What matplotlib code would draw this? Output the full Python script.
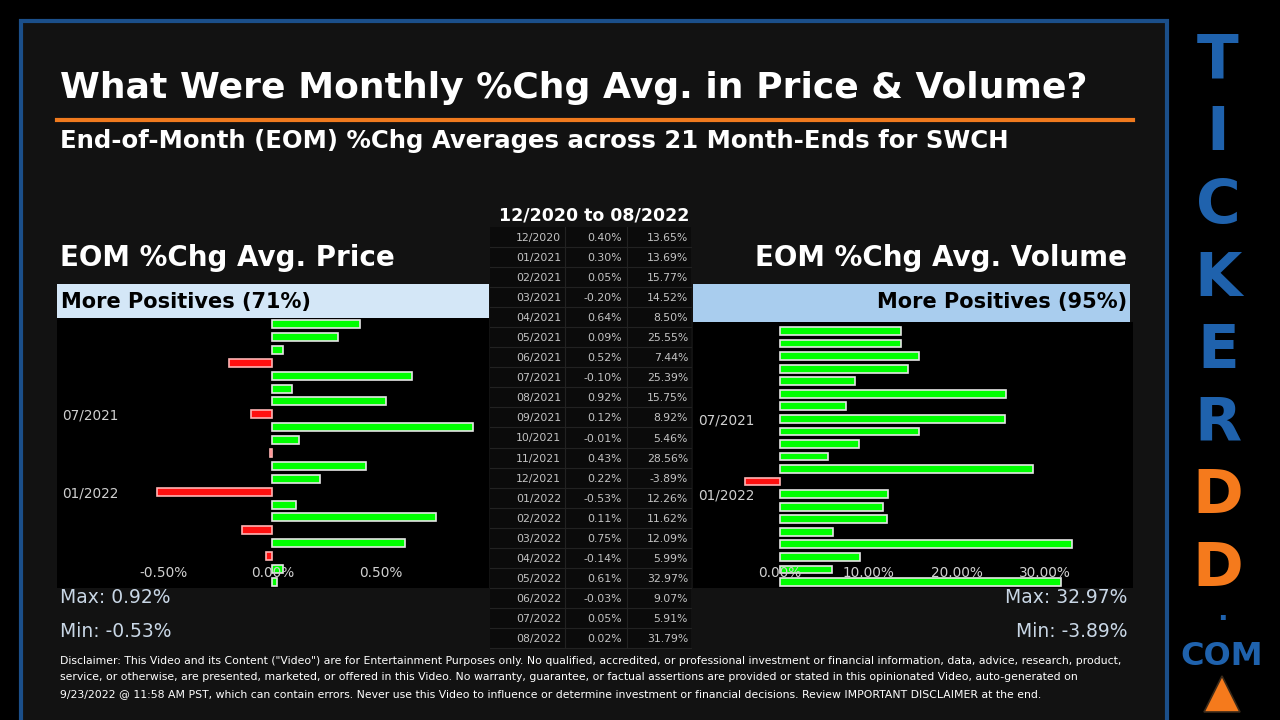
import matplotlib.pyplot as plt
from matplotlib.patches import Rectangle

plt.rcParams['font.family'] = ['DejaVu Sans']

months = ["12/2020", "01/2021", "02/2021", "03/2021", "04/2021", "05/2021", "06/2021",
          "07/2021", "08/2021", "09/2021", "10/2021", "11/2021", "12/2021", "01/2022",
          "02/2022", "03/2022", "04/2022", "05/2022", "06/2022", "07/2022", "08/2022"]
price_chg = [0.40, 0.30, 0.05, -0.20, 0.64, 0.09, 0.52, -0.10, 0.92, 0.12, -0.01,
             0.43, 0.22, -0.53, 0.11, 0.75, -0.14, 0.61, -0.03, 0.05, 0.02]
volume_chg = [13.65, 13.69, 15.77, 14.52, 8.50, 25.55, 7.44, 25.39, 15.75, 8.92, 5.46,
              28.56, -3.89, 12.26, 11.62, 12.09, 5.99, 32.97, 9.07, 5.91, 31.79]

price_ticks = [-0.5, 0.0, 0.5]
volume_ticks = [0, 10, 20, 30]
ylabel_idx = [7, 13]

W, H = 1280, 720
fig = plt.figure(figsize=(12.8, 7.2), dpi=100, facecolor='black')

# background canvas in pixel coordinates
bg = fig.add_axes([0, 0, 1, 1])
bg.set_xlim(0, W)
bg.set_ylim(H, 0)
bg.axis('off')

bg.add_patch(Rectangle((21, 21), 1146, 720, facecolor='#121212', edgecolor='#1b4f8a', lw=3))

bg.text(60, 98, "What Were Monthly %Chg Avg. in Price & Volume?", color='white',
        fontsize=26, fontweight='bold', va='baseline')
bg.plot([57, 1133], [120, 120], color='#f07a1e', lw=3)
bg.text(60, 148, "End-of-Month (EOM) %Chg Averages across 21 Month-Ends for SWCH", color='white',
        fontsize=17.6, fontweight='bold', va='baseline')

bg.text(594, 220, f"{months[0]} to {months[-1]}", color='white', fontsize=12.5,
        fontweight='bold', ha='center', va='baseline')
bg.text(60, 266, "EOM %Chg Avg. Price", color='white', fontsize=20, fontweight='bold', va='baseline')
bg.text(1127, 266, "EOM %Chg Avg. Volume", color='white', fontsize=20, fontweight='bold',
        va='baseline', ha='right')

pos_price = sum(v > 0 for v in price_chg) / len(price_chg)
pos_vol = sum(v > 0 for v in volume_chg) / len(volume_chg)
bg.add_patch(Rectangle((57, 284), 432, 34, facecolor='#d4e7f7', edgecolor='none'))
bg.add_patch(Rectangle((693, 284), 437, 38, facecolor='#a9cdee', edgecolor='none'))
bg.text(61, 308, f"More Positives ({pos_price:.0%})", color='black', fontsize=15,
        fontweight='bold', va='baseline')
bg.text(1127, 308, f"More Positives ({pos_vol:.0%})", color='black', fontsize=15,
        fontweight='bold', va='baseline', ha='right')

# middle table
bg.add_patch(Rectangle((490, 227), 201, 421, facecolor='#0b0b0b', edgecolor='none', zorder=1))
for i, (m, p, v) in enumerate(zip(months, price_chg, volume_chg)):
    y = 237 + i * 20.05
    bg.plot([490, 691], [y + 10, y + 10], color='#222222', lw=0.8, zorder=2)
    bg.text(561, y + 4, m, color='#c4c4c4', fontsize=7.8, ha='right', va='baseline', zorder=3)
    bg.text(622, y + 4, f"{p:.2f}%", color='#c4c4c4', fontsize=7.8, ha='right', va='baseline', zorder=3)
    bg.text(688, y + 4, f"{v:.2f}%", color='#c4c4c4', fontsize=7.8, ha='right', va='baseline', zorder=3)
for x in [565, 627]:
    bg.plot([x, x], [227, 648], color='#222222', lw=0.8, zorder=2)

# max / min
stat_col = '#c9d7e6'
bg.text(60, 603, f"Max: {max(price_chg):.2f}%", color=stat_col, fontsize=13.5, va='baseline')
bg.text(60, 637, f"Min: {min(price_chg):.2f}%", color=stat_col, fontsize=13.5, va='baseline')
bg.text(1127, 603, f"Max: {max(volume_chg):.2f}%", color=stat_col, fontsize=13.5, va='baseline', ha='right')
bg.text(1127, 637, f"Min: {min(volume_chg):.2f}%", color=stat_col, fontsize=13.5, va='baseline', ha='right')

disclaimer = [
    'Disclaimer: This Video and its Content ("Video") are for Entertainment Purposes only. No qualified, accredited, or professional investment or financial information, data, advice, research, product,',
    'service, or otherwise, are presented, marketed, or offered in this Video. No warranty, guarantee, or factual assertions are provided or stated in this opinionated Video, auto-generated on',
    '9/23/2022 @ 11:58 AM PST, which can contain errors. Never use this Video to influence or determine investment or financial decisions. Review IMPORTANT DISCLAIMER at the end.',
]
for i, line in enumerate(disclaimer):
    bg.text(60, 664 + i * 16.5, line, color='white', fontsize=7.85, va='baseline')

# side brand
brand_blue, brand_orange = '#1f62ad', '#f57a1c'
letters = list("TICKERDD")
for i, ch in enumerate(letters):
    col = brand_orange if ch == 'D' else brand_blue
    bg.text(1218, 78 + i * 72.5, ch, color=col, fontsize=44, fontweight='heavy',
            ha='center', va='baseline')
bg.text(1222, 620, ".", color=brand_blue, fontsize=20, fontweight='bold', ha='center', va='baseline')
bg.text(1222, 665, "COM", color=brand_blue, fontsize=23, fontweight='bold', ha='center', va='baseline')
bg.plot([1222], [694], marker='^', markersize=26, color=brand_orange, mec='#3a2a1a', mew=1.2)


def px_axes(x0, y0, x1, y1):
    return fig.add_axes([x0 / W, 1 - y1 / H, (x1 - x0) / W, (y1 - y0) / H])


def bar_panel(ax, values, ticks, tick_fmt, xlim, ylim):
    ax.set_facecolor('black')
    cols = ['#00ff00' if v >= 0 else '#ff1010' for v in values]
    edges = ['#e6e6e6' if v >= 0 else '#ffb4b4' for v in values]
    ax.barh(range(len(values)), values, height=0.62, color=cols, edgecolor=edges, linewidth=1.2)
    ax.set_xlim(*xlim)
    ax.set_ylim(*ylim)
    ax.set_xticks(ticks)
    ax.set_xticklabels([tick_fmt(t) for t in ticks])
    ax.set_yticks(ylabel_idx)
    ax.set_yticklabels([months[i] for i in ylabel_idx])
    for lbl in ax.get_yticklabels():
        lbl.set_horizontalalignment('left')
    ax.tick_params(axis='x', length=0, pad=-16, colors='#d0d0d0', labelsize=9.8)
    ax.tick_params(axis='y', length=0, pad=-4, colors='#d0d0d0', labelsize=9.8)
    for s in ax.spines.values():
        s.set_visible(False)


ax1 = px_axes(57, 318, 489, 588)
bar_panel(ax1, price_chg, price_ticks, lambda t: f"{t:.2f}%", (-0.99, 0.995), (20.47, -0.47))

ax2 = px_axes(693, 322, 1133, 588)
bar_panel(ax2, volume_chg, volume_ticks, lambda t: f"{t:.2f}%", (-9.8, 39.9), (20.48, -0.72))

fig.savefig("out.png", dpi=100, facecolor='black')
